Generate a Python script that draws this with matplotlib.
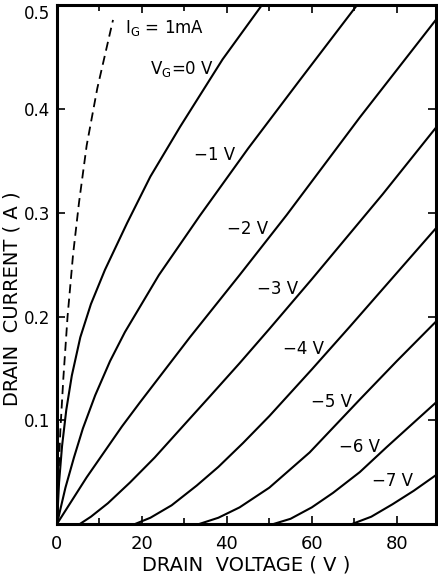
import matplotlib
matplotlib.use('Agg')
import matplotlib.pyplot as plt
from matplotlib.ticker import MultipleLocator

plt.rcParams['font.family'] = ['DejaVu Sans']

# Gate current curve (dashed)
ig_x = [0, 0.3, 0.8, 1.5, 2.5, 3.8, 5.2, 7, 9.5, 13.2]
ig_y = [0, 0.04, 0.09, 0.14, 0.2, 0.26, 0.31, 0.365, 0.42, 0.486]

# Drain current vs drain voltage for each gate voltage
curves = {
    '0': ([0, 0.5, 1.2, 2.2, 3.5, 5.5, 8, 11.3, 16.5, 22, 29, 39, 48.2],
          [0, 0.04, 0.075, 0.11, 0.143, 0.18, 0.212, 0.245, 0.29, 0.335, 0.383, 0.448, 0.5]),
    '-1': ([0, 2, 4, 6.1, 9, 12.5, 16, 24, 33.6, 45, 57, 70.6],
           [0, 0.035, 0.064, 0.092, 0.124, 0.157, 0.185, 0.24, 0.297, 0.362, 0.427, 0.5]),
    '-2': ([0, 7, 15.3, 19.5, 31.3, 43, 54.1, 71.3, 89.2],
           [0, 0.045, 0.094, 0.117, 0.18, 0.24, 0.298, 0.392, 0.486]),
    '-3': ([5.4, 8, 12, 17.2, 23, 29.6, 36, 43, 50, 60, 76.7, 89.2],
           [0, 0.007, 0.02, 0.04, 0.064, 0.094, 0.123, 0.155, 0.188, 0.236, 0.318, 0.382]),
    '-4': ([18.4, 22, 27, 32.9, 38, 43.8, 50, 60, 68.9, 89.2],
           [0, 0.006, 0.018, 0.037, 0.055, 0.078, 0.104, 0.149, 0.19, 0.285]),
    '-5': ([33.5, 38, 43, 50, 59.5, 71.3, 80, 89.2],
           [0, 0.006, 0.016, 0.035, 0.069, 0.12, 0.157, 0.195]),
    '-6': ([51, 55, 60, 65, 71.3, 77.6, 89.2],
           [0, 0.005, 0.016, 0.03, 0.05, 0.074, 0.117]),
    '-7': ([69.5, 74, 79, 84, 89.2],
           [0, 0.007, 0.019, 0.032, 0.047]),
}

# label text and where it sits (data coords)
labels = [
    ('I$_\\mathregular{G}$ = 1mA', 16, 0.478),
    ('V$_\\mathregular{G}$=0 V', 21.9, 0.439),
    ('\u22121 V', 37.2, 0.356),
    ('\u22122 V', 44.9, 0.284),
    ('\u22123 V', 52, 0.227),
    ('\u22124 V', 58.1, 0.169),
    ('\u22125 V', 64.7, 0.118),
    ('\u22126 V', 71.3, 0.074),
    ('\u22127 V', 79.1, 0.041),
]

fig = plt.figure(figsize=(4.38, 5.82), dpi=100)
ax = fig.add_axes([0.130, 0.0997, 0.865, 0.891])

ax.plot(ig_x, ig_y, color='black', lw=1.3, linestyle=(0, (5, 3)))
for name, (xs, ys) in curves.items():
    ax.plot(xs, ys, color='black', lw=1.5, solid_capstyle='butt')

for i, (txt, x, y) in enumerate(labels):
    ha = 'left' if i < 2 else 'center'
    ax.text(x, y, txt, ha=ha, va='center', fontsize=12)

ax.set_xlim(0, 89.2)
ax.set_ylim(0, 0.5)
ax.xaxis.set_minor_locator(MultipleLocator(10))
ax.set_xticks([0, 20, 40, 60, 80])
ax.set_xticklabels(['0', '20', '40', '60', '80'])
ax.set_yticks([0, 0.1, 0.2, 0.3, 0.4, 0.5])
ax.set_yticklabels(['', '0.1', '0.2', '0.3', '0.4', '0.5'])
ax.tick_params(which='both', direction='in', top=True, right=True, width=1.2)
ax.tick_params(which='major', length=6)
ax.tick_params(which='minor', length=4)
ax.tick_params(axis='x', pad=8, labelsize=13)
ax.tick_params(axis='y', pad=5, labelsize=12)
# keep the top label inside the figure
ax.yaxis.get_major_ticks()[-1].label1.set_va('top')
for sp in ax.spines.values():
    sp.set_linewidth(2.2)

ax.set_xlabel('DRAIN  VOLTAGE ( V )', fontsize=14, labelpad=2)
ax.set_ylabel('DRAIN  CURRENT ( A )', fontsize=14, va='center')
ax.yaxis.set_label_coords(-0.118, 0.435)

plt.savefig('out.png', dpi=100)
